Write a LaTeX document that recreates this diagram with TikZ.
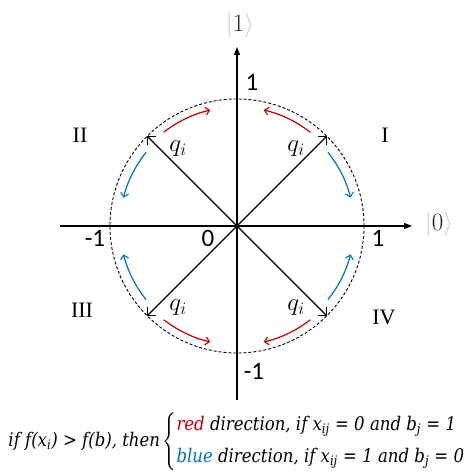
\RequirePackage{fix-cm}
\documentclass[tikz,border=0pt]{standalone}
\usepackage[no-math]{fontspec}
\usepackage{amsmath}
\setmainfont{Liberation Serif}
\newfontfamily\numfont{Carlito}
\newfontfamily\condfont{DejaVu Serif}
\usetikzlibrary{arrows.meta,calc}
\definecolor{myred}{HTML}{C00000}
\definecolor{myblue}{HTML}{0070C0}
\definecolor{ketgray}{HTML}{C8C8C8}
\tikzset{
  axis/.style={line width=1.2pt,-{Triangle[length=8pt,width=6pt]}},
  vec/.style={line width=1.1pt,-{Straight Barb[length=6pt,width=12pt,line width=1.1pt]}},
  redarc/.style={myred,line width=1.2pt,-{Straight Barb[length=4pt,width=8pt,line width=1.1pt]}},
  bluearc/.style={myblue,line width=1.2pt,-{Straight Barb[length=4pt,width=8pt,line width=1.1pt]}},
  unitcircle/.style={line width=0.9pt,dash pattern=on 3pt off 2pt},
  numlab/.style={font=\numfont\fontsize{25}{30}\selectfont,inner sep=0pt},
  quadlab/.style={font=\fontsize{22}{26}\selectfont,inner sep=0pt},
  qlab/.style={font=\fontsize{25}{30}\selectfont,inner sep=0pt},
  ketlab/.style={font=\fontsize{25}{30}\selectfont,inner sep=0pt}
}
\newcommand{\sbs}[1]{\textsubscript{#1}}
\begin{document}
\begin{tikzpicture}[x=1pt,y=1pt]
\useasboundingbox (0,0) rectangle (474,476);
\coordinate (O) at (237,250);
\coordinate (xl) at (60,250);
\coordinate (xr) at (412,250);
\coordinate (yb) at (237,76);
\coordinate (yt) at (237,429);
% circle
\draw[unitcircle] (O) circle[radius=127];
% axes
\draw[axis] (xl) -- (xr);
\draw[axis] (yb) -- (yt);
% diagonal vectors
\coordinate (t1) at ($(O)+(45:127)$);
\coordinate (t2) at ($(O)+(135:127)$);
\coordinate (t3) at ($(O)+(225:127)$);
\coordinate (t4) at ($(O)+(315:127)$);
\draw[vec] (O) -- (t1);
\draw[vec] (O) -- (t2);
\draw[vec] (O) -- (t3);
\draw[vec] (O) -- (t4);
% curved arrows
\draw[redarc] ($(O)+(52:119)$) arc[start angle=52,end angle=77,radius=119];
\draw[bluearc] ($(O)+(39:117)$) arc[start angle=39,end angle=14,radius=117];
\draw[redarc] ($(O)+(128:119)$) arc[start angle=128,end angle=103,radius=119];
\draw[bluearc] ($(O)+(141:117)$) arc[start angle=141,end angle=166,radius=117];
\draw[redarc] ($(O)+(232:119)$) arc[start angle=232,end angle=257,radius=119];
\draw[bluearc] ($(O)+(219:117)$) arc[start angle=219,end angle=194,radius=117];
\draw[redarc] ($(O)+(308:119)$) arc[start angle=308,end angle=283,radius=119];
\draw[bluearc] ($(O)+(321:117)$) arc[start angle=321,end angle=346,radius=117];
% kets
\node[ketlab] (k1) at (240,451) {$\color{ketgray}|\color{black!85}1\color{ketgray}\rangle$};
\node[ketlab] (k0) at (439,252) {$\color{ketgray}|\color{black!85}0\color{ketgray}\rangle$};
% numbers
\node[numlab] (n1t) at (252,394) {1};
\node[numlab] (n1r) at (378,238) {1};
\node[numlab] (nm1l) at (95,238) {-1};
\node[numlab] (n0) at (208,238) {0};
\node[numlab] (nm1b) at (254,105) {-1};
% quadrants
\node[quadlab] (qI) at (385,341) {I};
\node[quadlab] (qII) at (80,341) {II};
\node[quadlab] (qIII) at (82,166) {III};
\node[quadlab] (qIV) at (384,159) {IV};
% q_i labels
\node[qlab] (q1) at (296,327) {$q_i$};
\node[qlab] (q2) at (178,327) {$q_i$};
\node[qlab] (q3) at (178,168) {$q_i$};
\node[qlab] (q4) at (296,168) {$q_i$};
% condition
\node[inner sep=0pt] (cond) at (237,34) {\resizebox*{457pt}{58pt}{\condfont\itshape\fontsize{14}{17}\selectfont
 if f(x\sbs{i})\ \upshape{>}\ \itshape f(b), then\,$\left\{\begin{tabular}{@{}l@{}}
 {\color{myred}red} direction, if x\sbs{ij} \upshape{=} \itshape 0 and b\sbs{j} \upshape{=}\itshape\ 1\\[7pt]
 {\color{myblue}blue} direction, if x\sbs{ij} \upshape{=} \itshape 1 and b\sbs{j} \upshape{=}\itshape\ 0
 \end{tabular}\right.$}};
\end{tikzpicture}
\end{document}
